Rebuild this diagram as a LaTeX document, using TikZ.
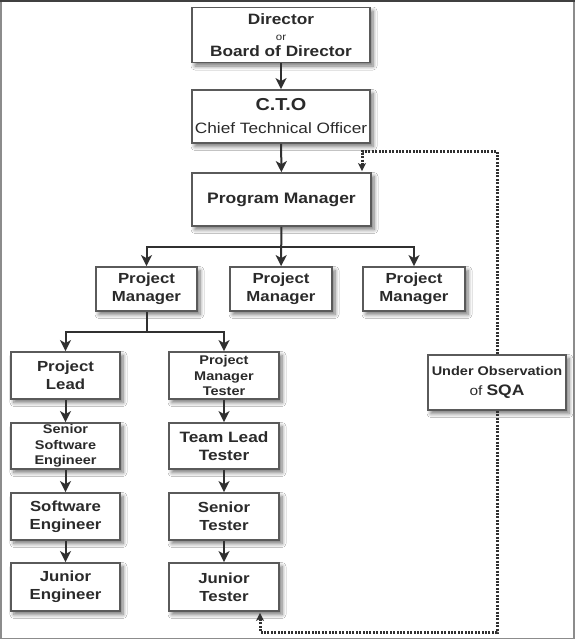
\documentclass[tikz,border=0pt]{standalone}
\usepackage{fontspec}
\setmainfont{Liberation Sans}[FakeStretch=1.15]
\usetikzlibrary{arrows.meta,shadows.blur}
\definecolor{boxline}{HTML}{5A5A5A}
\definecolor{ink}{HTML}{2A2A2A}
\definecolor{arrowc}{HTML}{303030}
\tikzset{
  orgbox/.style={draw=boxline, line width=1.8pt, fill=white, align=center, inner sep=1pt,
    text=ink, font=\bfseries,
    blur shadow={shadow xshift=3pt, shadow yshift=-3.5pt, shadow blur steps=7, shadow opacity=55, shadow blur radius=4pt}},
  arr/.style={draw=arrowc, line width=2pt, -{Stealth[length=11pt,width=11pt,inset=3pt]}},
  plainline/.style={draw=arrowc, line width=2pt},
  dotarr/.style={draw=arrowc, line width=3pt, dash pattern=on 2pt off 1.4pt,
    -{Stealth[length=8pt,width=8pt,inset=2pt]}, shorten >=1pt},
  big/.style={font=\fontsize{14.6}{18}\selectfont\bfseries},
  mid/.style={font=\fontsize{12.6}{15.5}\selectfont\bfseries},
}
\begin{document}
\begin{tikzpicture}[x=1pt,y=-1pt]
\useasboundingbox (0,0) rectangle (575,640);
\fill[white] (0,0) rectangle (575,640);
% frame
\draw[color=gray!90, line width=1.5pt] (0.75,0.75) rectangle (574,638.5);
\draw[color=black!75, line width=1.5pt] (0,0.75) -- (575,0.75);

\node[orgbox, font=\fontsize{15}{16}\selectfont\bfseries, minimum width=178pt, minimum height=55pt] (dir) at (281,35)
  {Director\\
   {\fontsize{10}{12}\selectfont\mdseries or}\\
   Board of Director};
\node[orgbox, font=\fontsize{17.3}{23}\selectfont\bfseries, minimum width=178pt, minimum height=53pt] (cto) at (281,116.5)
  {C.T.O\\
   {\fontsize{15}{17}\selectfont\mdseries Chief Technical Officer}};
\node[orgbox, font=\fontsize{15.2}{18}\selectfont\bfseries, minimum width=179pt, minimum height=53pt] (pgm) at (281.5,199.5) {Program Manager};

\node[orgbox, big, minimum width=101pt, minimum height=44pt] (pm1) at (146.5,289) {Project\\Manager};
\node[orgbox, big, minimum width=102pt, minimum height=44pt] (pm2) at (281,289) {Project\\Manager};
\node[orgbox, big, minimum width=102pt, minimum height=44pt] (pm3) at (414,289) {Project\\Manager};

\node[orgbox, big, minimum width=109pt, minimum height=47pt] (pl) at (65.5,375.5) {Project\\Lead};
\node[orgbox, mid, minimum width=110pt, minimum height=47pt] (pmt) at (224,375.5) {Project\\Manager\\Tester};
\node[orgbox, mid, minimum width=109pt, minimum height=46pt] (sse) at (65.5,446) {Senior\\Software\\Engineer};
\node[orgbox, big, font=\fontsize{15}{18}\selectfont\bfseries, minimum width=110pt, minimum height=46pt] (tlt) at (224,446) {Team Lead\\Tester};
\node[orgbox, big, minimum width=109pt, minimum height=47pt] (se) at (65.5,516.5) {Software\\Engineer};
\node[orgbox, big, minimum width=110pt, minimum height=47pt] (st) at (224,516.5) {Senior\\Tester};
\node[orgbox, big, minimum width=109pt, minimum height=48pt] (je) at (65.5,587) {Junior\\Engineer};
\node[orgbox, big, minimum width=110pt, minimum height=48pt] (jt) at (224,587) {Junior\\Tester};

\node[orgbox, font=\fontsize{12.6}{20}\selectfont\bfseries, minimum width=138pt, minimum height=55pt] (sqa) at (497,382.5)
  {Under Observation\\
   {\fontsize{13.5}{20}\selectfont\mdseries of} {\fontsize{15.2}{20}\selectfont SQA}};

% connectors
\draw[arr] (dir) -- (cto);
\draw[arr] (cto) -- (pgm);
\coordinate (br) at (281,247);
\draw[arr] (pgm) -- (pm2);
\draw[arr] (br) -| (pm1.north);
\draw[arr] (br) -| (pm3.north);
\coordinate (br2) at (146.5,332);
\draw[plainline] (pm1.south) -- (br2);
\draw[arr] (br2) -| (pl.north);
\draw[arr] (br2) -| (pmt.north);
\draw[arr] (pl) -- (sse);
\draw[arr] (sse) -- (se);
\draw[arr] (se) -- (je);
\draw[arr] (pmt) -- (tlt);
\draw[arr] (tlt) -- (st);
\draw[arr] (st) -- (jt);

% dotted SQA connectors
\coordinate (dt) at (362,151);
\coordinate (db) at (260,632);
\draw[dotarr] (sqa.north) |- (dt) -- (dt |- pgm.north);
\draw[dotarr] (sqa.south) |- (db) -- (db |- jt.south);
\end{tikzpicture}
\end{document}
